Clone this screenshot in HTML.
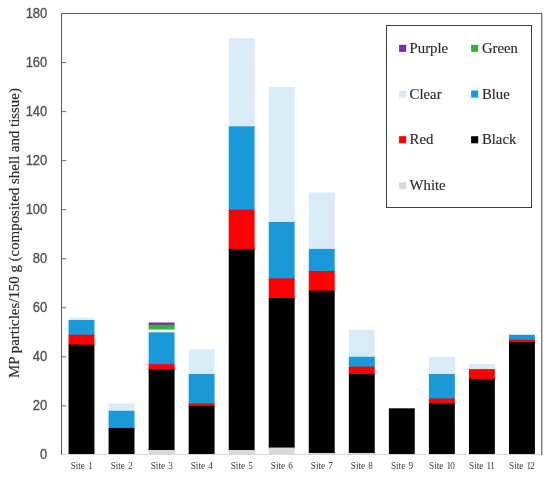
<!DOCTYPE html>
<html><head><meta charset="utf-8"><title>MP particles by site</title>
<style>
html,body{margin:0;padding:0;background:#fff;}
body{width:550px;height:478px;overflow:hidden;}
svg{display:block;}
.tick{font-family:"Liberation Sans","DejaVu Sans",sans-serif;font-size:13.8px;fill:#505050;stroke:#505050;stroke-width:0.3px;}
.site{font-family:"Liberation Serif","DejaVu Serif",serif;font-size:10px;fill:#404040;word-spacing:1px;}
.leg{font-family:"Liberation Serif","DejaVu Serif",serif;font-size:14.2px;fill:#2b2b2b;stroke:#2b2b2b;stroke-width:0.15px;}
.ylab{font-family:"Liberation Serif","DejaVu Serif",serif;font-size:14.9px;fill:#2b2b2b;stroke:#2b2b2b;stroke-width:0.15px;}
</style></head><body>
<svg width="550" height="478" viewBox="0 0 550 478">
<rect x="0" y="0" width="550" height="478" fill="#ffffff"/>
<g>
<rect x="68.55" y="317.59" width="25.9" height="3.45" fill="#DAEBF8"/>
<rect x="68.55" y="320.04" width="25.9" height="15.71" fill="#1B98D8"/>
<rect x="68.55" y="334.75" width="25.9" height="10.81" fill="#FF0000"/>
<rect x="68.55" y="344.56" width="25.9" height="110.34" fill="#000000"/>
<rect x="108.59" y="403.41" width="25.9" height="8.36" fill="#DAEBF8"/>
<rect x="108.59" y="410.76" width="25.9" height="18.16" fill="#1B98D8"/>
<rect x="108.59" y="427.93" width="25.9" height="26.97" fill="#000000"/>
<rect x="148.63" y="322.49" width="25.9" height="3.21" fill="#7B2BA8"/>
<rect x="148.63" y="324.70" width="25.9" height="5.78" fill="#3DAE3D"/>
<rect x="148.63" y="329.48" width="25.9" height="3.82" fill="#F0F7FC"/>
<rect x="148.63" y="332.30" width="25.9" height="32.88" fill="#1B98D8"/>
<rect x="148.63" y="364.18" width="25.9" height="5.90" fill="#FF0000"/>
<rect x="148.63" y="369.08" width="25.9" height="81.92" fill="#000000"/>
<rect x="148.63" y="450.00" width="25.9" height="4.90" fill="#D9D9D9"/>
<rect x="188.67" y="349.46" width="25.9" height="25.52" fill="#DAEBF8"/>
<rect x="188.67" y="373.98" width="25.9" height="30.42" fill="#1B98D8"/>
<rect x="188.67" y="403.41" width="25.9" height="3.45" fill="#FF0000"/>
<rect x="188.67" y="405.86" width="25.9" height="49.04" fill="#000000"/>
<rect x="228.71" y="38.06" width="25.9" height="89.27" fill="#DAEBF8"/>
<rect x="228.71" y="126.33" width="25.9" height="84.37" fill="#1B98D8"/>
<rect x="228.71" y="209.70" width="25.9" height="40.23" fill="#FF0000"/>
<rect x="228.71" y="248.93" width="25.9" height="202.06" fill="#000000"/>
<rect x="228.71" y="450.00" width="25.9" height="4.90" fill="#D9D9D9"/>
<rect x="268.75" y="87.10" width="25.9" height="135.86" fill="#DAEBF8"/>
<rect x="268.75" y="221.96" width="25.9" height="57.40" fill="#1B98D8"/>
<rect x="268.75" y="278.36" width="25.9" height="20.62" fill="#FF0000"/>
<rect x="268.75" y="297.97" width="25.9" height="150.57" fill="#000000"/>
<rect x="268.75" y="447.54" width="25.9" height="7.36" fill="#D9D9D9"/>
<rect x="308.79" y="192.54" width="25.9" height="57.40" fill="#DAEBF8"/>
<rect x="308.79" y="248.93" width="25.9" height="23.07" fill="#1B98D8"/>
<rect x="308.79" y="271.00" width="25.9" height="20.62" fill="#FF0000"/>
<rect x="308.79" y="290.62" width="25.9" height="163.32" fill="#000000"/>
<rect x="308.79" y="452.94" width="25.9" height="1.96" fill="#D9D9D9"/>
<rect x="348.83" y="329.85" width="25.9" height="27.97" fill="#DAEBF8"/>
<rect x="348.83" y="356.82" width="25.9" height="10.81" fill="#1B98D8"/>
<rect x="348.83" y="366.63" width="25.9" height="8.36" fill="#FF0000"/>
<rect x="348.83" y="373.98" width="25.9" height="79.95" fill="#000000"/>
<rect x="348.83" y="452.94" width="25.9" height="1.96" fill="#D9D9D9"/>
<rect x="388.87" y="408.31" width="25.9" height="46.59" fill="#000000"/>
<rect x="428.91" y="356.82" width="25.9" height="18.16" fill="#DAEBF8"/>
<rect x="428.91" y="373.98" width="25.9" height="25.52" fill="#1B98D8"/>
<rect x="428.91" y="398.50" width="25.9" height="5.90" fill="#FF0000"/>
<rect x="428.91" y="403.41" width="25.9" height="51.49" fill="#000000"/>
<rect x="468.95" y="364.18" width="25.9" height="5.90" fill="#DAEBF8"/>
<rect x="468.95" y="369.08" width="25.9" height="10.81" fill="#FF0000"/>
<rect x="468.95" y="378.89" width="25.9" height="76.01" fill="#000000"/>
<rect x="508.99" y="334.75" width="25.9" height="5.90" fill="#1B98D8"/>
<rect x="508.99" y="339.66" width="25.9" height="3.45" fill="#FF0000"/>
<rect x="508.99" y="342.11" width="25.9" height="112.79" fill="#000000"/>
</g>
<g shape-rendering="crispEdges">
<rect x="61" y="454" width="481" height="1" fill="#D9D9D9"/>
<rect x="61" y="13" width="1" height="442" fill="#595959"/>
<rect x="61" y="13" width="481" height="1" fill="#595959"/>
<rect x="541.2" y="13" width="1.1" height="442" fill="#595959" shape-rendering="auto"/>
<rect x="62" y="405.36" width="4.3" height="1" fill="#6a6a6a" shape-rendering="auto"/>
<rect x="62" y="356.32" width="4.3" height="1" fill="#6a6a6a" shape-rendering="auto"/>
<rect x="62" y="307.28" width="4.3" height="1" fill="#6a6a6a" shape-rendering="auto"/>
<rect x="62" y="258.24" width="4.3" height="1" fill="#6a6a6a" shape-rendering="auto"/>
<rect x="62" y="209.20" width="4.3" height="1" fill="#6a6a6a" shape-rendering="auto"/>
<rect x="62" y="160.16" width="4.3" height="1" fill="#6a6a6a" shape-rendering="auto"/>
<rect x="62" y="111.12" width="4.3" height="1" fill="#6a6a6a" shape-rendering="auto"/>
<rect x="62" y="62.08" width="4.3" height="1" fill="#6a6a6a" shape-rendering="auto"/>
</g>
<text class="tick" transform="translate(47.3,459.4) scale(0.942,1)" text-anchor="end">0</text>
<text class="tick" transform="translate(47.3,410.4) scale(0.942,1)" text-anchor="end">20</text>
<text class="tick" transform="translate(47.3,361.3) scale(0.942,1)" text-anchor="end">40</text>
<text class="tick" transform="translate(47.3,312.3) scale(0.942,1)" text-anchor="end">60</text>
<text class="tick" transform="translate(47.3,263.2) scale(0.942,1)" text-anchor="end">80</text>
<text class="tick" transform="translate(47.3,214.2) scale(0.942,1)" text-anchor="end">100</text>
<text class="tick" transform="translate(47.3,165.2) scale(0.942,1)" text-anchor="end">120</text>
<text class="tick" transform="translate(47.3,116.1) scale(0.942,1)" text-anchor="end">140</text>
<text class="tick" transform="translate(47.3,67.1) scale(0.942,1)" text-anchor="end">160</text>
<text class="tick" transform="translate(47.3,18.0) scale(0.942,1)" text-anchor="end">180</text>
<text class="site" transform="translate(81.7,469.3) scale(0.92,1)" text-anchor="middle">Site 1</text>
<text class="site" transform="translate(121.7,469.3) scale(0.92,1)" text-anchor="middle">Site 2</text>
<text class="site" transform="translate(161.8,469.3) scale(0.92,1)" text-anchor="middle">Site 3</text>
<text class="site" transform="translate(201.8,469.3) scale(0.92,1)" text-anchor="middle">Site 4</text>
<text class="site" transform="translate(241.8,469.3) scale(0.92,1)" text-anchor="middle">Site 5</text>
<text class="site" transform="translate(281.9,469.3) scale(0.92,1)" text-anchor="middle">Site 6</text>
<text class="site" transform="translate(321.9,469.3) scale(0.92,1)" text-anchor="middle">Site 7</text>
<text class="site" transform="translate(361.9,469.3) scale(0.92,1)" text-anchor="middle">Site 8</text>
<text class="site" transform="translate(402.0,469.3) scale(0.92,1)" text-anchor="middle">Site 9</text>
<text class="site" transform="translate(442.0,469.3) scale(0.92,1)" text-anchor="middle">Site <tspan letter-spacing="-0.9">1</tspan>0</text>
<text class="site" transform="translate(482.0,469.3) scale(0.92,1)" text-anchor="middle">Site <tspan letter-spacing="-0.9">1</tspan>1</text>
<text class="site" transform="translate(522.0,469.3) scale(0.92,1)" text-anchor="middle">Site <tspan letter-spacing="-0.9">1</tspan>2</text>
<text class="ylab" transform="translate(19.2,233) rotate(-90)" text-anchor="middle">MP particles/150 g (composited shell and tissue)</text>
<rect x="386.5" y="25.5" width="145" height="182" fill="#ffffff" stroke="#404040" stroke-width="1"/>
<rect x="399.1" y="44.8" width="7.1" height="7.1" fill="#7B2BA8"/>
<text class="leg" transform="translate(409.6,52.8) scale(1.04,1)">Purple</text>
<rect x="471.1" y="44.8" width="7.1" height="7.1" fill="#3DAE3D"/>
<text class="leg" transform="translate(481.9,52.8) scale(1.04,1)">Green</text>
<rect x="399.1" y="90.5" width="7.1" height="7.1" fill="#DAEBF8"/>
<text class="leg" transform="translate(409.6,98.6) scale(1.04,1)">Clear</text>
<rect x="471.1" y="90.5" width="7.1" height="7.1" fill="#1B98D8"/>
<text class="leg" transform="translate(481.9,98.6) scale(1.04,1)">Blue</text>
<rect x="399.1" y="136.2" width="7.1" height="7.1" fill="#FF0000"/>
<text class="leg" transform="translate(409.6,144.4) scale(1.04,1)">Red</text>
<rect x="471.1" y="136.2" width="7.1" height="7.1" fill="#000000"/>
<text class="leg" transform="translate(481.9,144.4) scale(1.04,1)">Black</text>
<rect x="399.1" y="182.0" width="7.1" height="7.1" fill="#D9D9D9"/>
<text class="leg" transform="translate(409.6,189.9) scale(1.04,1)">White</text>
</svg>
</body></html>
